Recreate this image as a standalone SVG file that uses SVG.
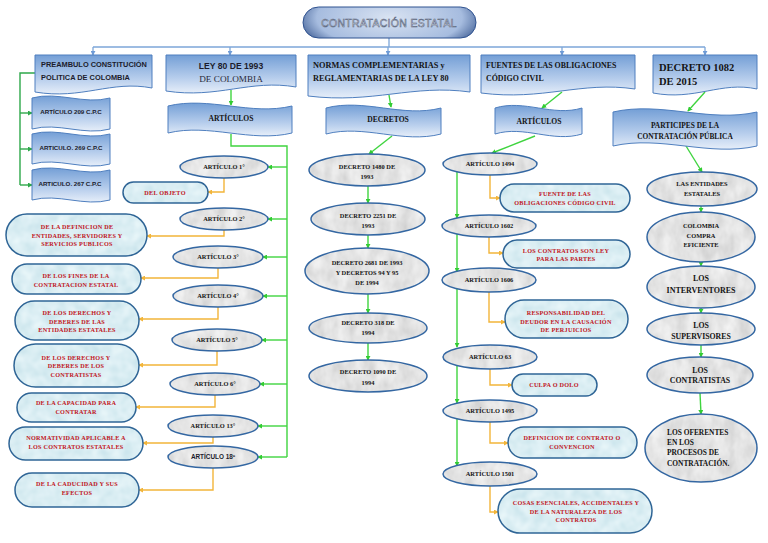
<svg xmlns="http://www.w3.org/2000/svg" width="768" height="543" viewBox="0 0 768 543">
<defs>
<linearGradient id="gHead" x1="0" y1="0" x2="0" y2="1">
<stop offset="0" stop-color="#749fd6"/><stop offset="0.6" stop-color="#b6cdec"/><stop offset="1" stop-color="#e6eef9"/>
</linearGradient>
<radialGradient id="gTitle" cx="0.5" cy="0.35" r="0.6" gradientTransform="translate(0.5 0.35) scale(1 2.2) translate(-0.5 -0.35)">
<stop offset="0" stop-color="#d9e3f2"/><stop offset="0.7" stop-color="#a6bcdf"/><stop offset="1" stop-color="#23447f"/>
</radialGradient>
<filter id="marble" x="0" y="0" width="1" height="1">
<feTurbulence type="fractalNoise" baseFrequency="0.08 0.05" numOctaves="3" seed="4" result="n"/>
<feColorMatrix in="n" type="matrix" values="0.35 0 0 0 0.6  0.35 0 0 0 0.6  0.35 0 0 0 0.6  0 0 0 0 1" result="c"/>
<feComposite in="c" in2="SourceGraphic" operator="in"/>
</filter>
<filter id="water" x="0" y="0" width="1" height="1">
<feTurbulence type="fractalNoise" baseFrequency="0.09" numOctaves="2" seed="7" result="n"/>
<feColorMatrix in="n" type="matrix" values="0.3 0 0 0 0.55  0.2 0 0 0 0.75  0.15 0 0 0 0.82  0 0 0 0 1" result="c"/>
<feComposite in="c" in2="SourceGraphic" operator="in"/>
</filter>
<marker id="aB" viewBox="0 0 6 6" refX="5" refY="3" markerWidth="5" markerHeight="5" orient="auto" markerUnits="userSpaceOnUse"><path d="M0,0 L6,3 L0,6 Z" fill="#6f9bd6"/></marker>
<marker id="aG" viewBox="0 0 6 6" refX="5" refY="3" markerWidth="5" markerHeight="5" orient="auto" markerUnits="userSpaceOnUse"><path d="M0,0 L6,3 L0,6 Z" fill="#33cc33"/></marker>
<marker id="aG2" viewBox="0 0 6 6" refX="5" refY="3" markerWidth="5" markerHeight="5" orient="auto" markerUnits="userSpaceOnUse"><path d="M0,0 L6,3 L0,6 Z" fill="#2ea84a"/></marker>
<marker id="aO" viewBox="0 0 6 6" refX="5" refY="3" markerWidth="5" markerHeight="5" orient="auto" markerUnits="userSpaceOnUse"><path d="M0,0 L6,3 L0,6 Z" fill="#f2b53a"/></marker>
</defs>
<style>
.head{fill:url(#gHead);stroke:#4f7fbf;stroke-width:1}
.mfill{fill:#ddd;filter:url(#marble)}
.mline{fill:none;stroke:#3467a2;stroke-width:1.5}
.wfill{fill:#bfe6f0;filter:url(#water)}
.wline{fill:none;stroke:#2f6596;stroke-width:1.5}
.cB{fill:none;stroke:#7da7d9;stroke-width:1.3}
.cG{fill:none;stroke:#3fd43f;stroke-width:1.4}
.cG2{fill:none;stroke:#2ea84a;stroke-width:1.4}
.cO{fill:none;stroke:#f2b53a;stroke-width:1.4}
.sb{font-family:"Liberation Sans",Arial,sans-serif;font-weight:bold;fill:#1c1c2c}
.se{font-family:"Liberation Serif","Times New Roman",serif;font-weight:bold;fill:#141414}
.ser{font-family:"Liberation Serif","Times New Roman",serif;fill:#2a2a3a}
.red{font-family:"Liberation Serif","Times New Roman",serif;font-weight:bold;fill:#c0141c;font-size:6.2px;letter-spacing:0.25px;text-anchor:middle}
.et{font-size:6.4px;text-anchor:middle}
.c{text-anchor:middle}
</style>

<g id="connectors">
<path class="cB" d="M389,38 V47 M93,47 H705"/>
<path class="cB" marker-end="url(#aB)" d="M93,47 V55"/>
<path class="cB" marker-end="url(#aB)" d="M230,47 V55"/>
<path class="cB" marker-end="url(#aB)" d="M388,47 V55"/>
<path class="cB" marker-end="url(#aB)" d="M562,47 V55"/>
<path class="cB" marker-end="url(#aB)" d="M705,47 V55"/>
<path class="cG2" d="M35,73 H20 V185"/>
<path class="cG2" marker-end="url(#aG2)" d="M20,113 H32"/>
<path class="cG2" marker-end="url(#aG2)" d="M20,149 H32"/>
<path class="cG2" marker-end="url(#aG2)" d="M20,185 H32"/>
<path class="cG" marker-end="url(#aG)" d="M231,90 V105"/>
<path class="cG" d="M231,134 V146 H287 V457"/>
<path class="cG" marker-end="url(#aG)" d="M287,167 H268"/>
<path class="cG" marker-end="url(#aG)" d="M287,219 H268"/>
<path class="cG" marker-end="url(#aG)" d="M287,257 H263"/>
<path class="cG" marker-end="url(#aG)" d="M287,296 H263"/>
<path class="cG" marker-end="url(#aG)" d="M287,340 H262"/>
<path class="cG" marker-end="url(#aG)" d="M287,384 H260"/>
<path class="cG" marker-end="url(#aG)" d="M287,426 H258"/>
<path class="cG" marker-end="url(#aG)" d="M287,457 H258"/>
<path class="cO" marker-end="url(#aO)" d="M224,178 V192 H208"/>
<path class="cO" marker-end="url(#aO)" d="M224,230 V236 H147"/>
<path class="cO" marker-end="url(#aO)" d="M218,268 V278 H141"/>
<path class="cO" marker-end="url(#aO)" d="M218,307 V319 H139"/>
<path class="cO" marker-end="url(#aO)" d="M217,351 V365 H139"/>
<path class="cO" marker-end="url(#aO)" d="M215,395 V407 H136"/>
<path class="cO" marker-end="url(#aO)" d="M213,437 V443 H143"/>
<path class="cO" marker-end="url(#aO)" d="M213,468 V490 H139"/>
<path class="cG" marker-end="url(#aG)" d="M389,95 L391,107"/>
<path class="cG" marker-end="url(#aG)" d="M392,136 L369,154"/>
<path class="cG" marker-end="url(#aG)" d="M368,186 V203"/>
<path class="cG" marker-end="url(#aG)" d="M368,235 V248"/>
<path class="cG" marker-end="url(#aG)" d="M368,294 V313"/>
<path class="cG" marker-end="url(#aG)" d="M368,343 V360"/>
<path class="cG" marker-end="url(#aG)" d="M562,92 L542,108"/>
<path class="cG" marker-end="url(#aG)" d="M535,136 L492,153"/>
<path class="cG" marker-end="url(#aG)" d="M457,172 V218"/>
<path class="cG" marker-end="url(#aG)" d="M457,234 V272"/>
<path class="cG" marker-end="url(#aG)" d="M457,288 V347"/>
<path class="cG" marker-end="url(#aG)" d="M457,365 V403"/>
<path class="cG" marker-end="url(#aG)" d="M457,418 V466"/>
<path class="cO" marker-end="url(#aO)" d="M490,175 V198 H500"/>
<path class="cO" marker-end="url(#aO)" d="M489,237 V253 H503"/>
<path class="cO" marker-end="url(#aO)" d="M489,292 V322 H505"/>
<path class="cO" marker-end="url(#aO)" d="M490,369 V385 H512"/>
<path class="cO" marker-end="url(#aO)" d="M490,422 V443 H508"/>
<path class="cO" marker-end="url(#aO)" d="M490,486 V512 H498"/>
<path class="cG" marker-end="url(#aG)" d="M705,92 L688,111"/>
<path class="cG" marker-end="url(#aG)" d="M686,146 L702,172"/>
<path class="cG" marker-end="url(#aG)" d="M701,206 V212"/>
<path class="cG" marker-end="url(#aG)" d="M701,262 V266"/>
<path class="cG" marker-end="url(#aG)" d="M701,308 V313"/>
<path class="cG" marker-end="url(#aG)" d="M701,345 V357"/>
<path class="cG" marker-end="url(#aG)" d="M700,393 L701,414"/>
</g>

<g id="title">
<rect x="303" y="7" width="173" height="31" rx="15.5" fill="url(#gTitle)" stroke="#2f5290" stroke-width="1"/>
<text x="389" y="27" text-anchor="middle" font-family="'Liberation Sans',Arial,sans-serif" font-size="10.5" letter-spacing="0.3" fill="#e9ecf1" stroke="#56627a" stroke-width="0.55">CONTRATACIÓN ESTATAL</text>
</g>

<g id="h-preambulo">
<path class="head" d="M35,55 H152 V88 C111,80 82,100 35,92 Z"/>
<text class="sb" font-size="7.4" x="41" y="67">PREAMBULO CONSTITUCIÓN</text>
<text class="sb" font-size="7.4" x="41" y="80">POLITICA DE COLOMBIA</text>
</g>
<g id="h-ley80">
<path class="head" d="M166,55 H296 V87 C250,79 218,99 166,91 Z"/>
<text class="sb c" font-size="8.6" x="231" y="69">LEY 80 DE 1993</text>
<text class="ser c" font-size="9.2" x="231" y="82">DE COLOMBIA</text>
</g>
<g id="h-normas">
<path class="head" d="M308,55 H470 V92 C413,84 373,104 308,96 Z"/>
<text class="se" font-size="8.3" x="313" y="68">NORMAS COMPLEMENTARIAS y</text>
<text class="se" font-size="8.3" x="313" y="81">REGLAMENTARIAS DE LA LEY 80</text>
</g>
<g id="h-fuentes">
<path class="head" d="M481,55 H635 V89 C581,81 543,101 481,93 Z"/>
<text class="se" font-size="7.9" x="486" y="68">FUENTES DE LAS OBLIGACIONES</text>
<text class="se" font-size="7.9" x="486" y="81">CÓDIGO CIVIL</text>
</g>
<g id="h-decreto1082">
<path class="head" d="M653,55 H757 V89 C721,81 695,101 653,93 Z"/>
<text class="se" font-size="10.5" x="659" y="71">DECRETO 1082</text>
<text class="se" font-size="10.5" x="659" y="85">DE 2015</text>
</g>

<g id="b-art209">
<path class="head" d="M32,98 C58,91 84,105 110,98 V129 C84,136 58,122 32,129 Z"/>
<text class="sb c" font-size="6.2" x="71" y="114">ARTÍCULO 209 C.P.C</text>
</g>
<g id="b-art269">
<path class="head" d="M32,134 C58,127 84,141 110,134 V164 C84,171 58,157 32,164 Z"/>
<text class="sb c" font-size="6.2" x="71" y="150">ARTICULO. 269 C.P.C</text>
</g>
<g id="b-art267">
<path class="head" d="M32,170 C58,163 84,177 110,170 V200 C84,207 58,193 32,200 Z"/>
<text class="sb c" font-size="6.2" x="70" y="186">ARTICULO. 267 C.P.C</text>
</g>
<g id="b-articulos1">
<path class="head" d="M168,106 C209,96 251,116 292,106 V133 C251,143 209,123 168,133 Z"/>
<text class="se c" font-size="7.6" x="231" y="121">ARTÍCULOS</text>
</g>
<g id="b-decretos">
<path class="head" d="M326,108 C364,98 403,118 441,108 V134 C403,144 364,124 326,134 Z"/>
<text class="se c" font-size="7.6" x="388" y="122">DECRETOS</text>
</g>
<g id="b-articulos2">
<path class="head" d="M495,108 C524,99 553,117 582,108 V134 C553,143 524,125 495,134 Z"/>
<text class="se c" font-size="7.6" x="539" y="124">ARTÍCULOS</text>
</g>
<g id="b-participes">
<path class="head" d="M613,112 C661,101 709,123 757,112 V146 C709,157 661,135 613,146 Z"/>
<text class="se c" font-size="7.4" x="685" y="128">PARTICIPES DE LA</text>
<text class="se c" font-size="7.4" x="685" y="139">CONTRATACIÓN PÚBLICA</text>
</g>

<g id="e-art1"><ellipse class="mfill" cx="224" cy="167" rx="44" ry="11"/><ellipse class="mline" cx="224" cy="167" rx="44" ry="11"/><text class="se et" x="224" y="169">ARTÍCULO 1°</text></g>
<g id="e-art2"><ellipse class="mfill" cx="224" cy="219" rx="44" ry="11"/><ellipse class="mline" cx="224" cy="219" rx="44" ry="11"/><text class="se et" x="224" y="221">ARTÍCULO 2°</text></g>
<g id="e-art3"><ellipse class="mfill" cx="218" cy="257" rx="45" ry="11"/><ellipse class="mline" cx="218" cy="257" rx="45" ry="11"/><text class="se et" x="218" y="259">ARTÍCULO 3°</text></g>
<g id="e-art4"><ellipse class="mfill" cx="218" cy="296" rx="45" ry="11"/><ellipse class="mline" cx="218" cy="296" rx="45" ry="11"/><text class="se et" x="218" y="298">ARTÍCULO 4°</text></g>
<g id="e-art5"><ellipse class="mfill" cx="217" cy="340" rx="45" ry="11"/><ellipse class="mline" cx="217" cy="340" rx="45" ry="11"/><text class="se et" x="217" y="342">ARTÍCULO 5°</text></g>
<g id="e-art6"><ellipse class="mfill" cx="215" cy="384" rx="45" ry="11"/><ellipse class="mline" cx="215" cy="384" rx="45" ry="11"/><text class="se et" x="215" y="386">ARTÍCULO 6°</text></g>
<g id="e-art13"><ellipse class="mfill" cx="213" cy="426" rx="45" ry="11"/><ellipse class="mline" cx="213" cy="426" rx="45" ry="11"/><text class="se et" x="213" y="428">ARTÍCULO 13°</text></g>
<g id="e-art18"><ellipse class="mfill" cx="213" cy="457" rx="45" ry="11"/><ellipse class="mline" cx="213" cy="457" rx="45" ry="11"/><text class="sb et" x="213" y="459">ARTÍCULO 18º</text></g>

<g id="p-objeto"><rect class="wfill" x="123" y="182" width="85" height="21" rx="10.5"/><rect class="wline" x="123" y="182" width="85" height="21" rx="10.5"/><text class="red" font-family="'Liberation Sans',Arial,sans-serif" x="165" y="195">DEL OBJETO</text></g>
<g id="p-definicion"><rect class="wfill" x="6" y="214" width="141" height="42" rx="21"/><rect class="wline" x="6" y="214" width="141" height="42" rx="21"/><text class="red" x="77" y="229">DE LA DEFINICION DE</text><text class="red" x="77" y="238">ENTIDADES, SERVIDORES Y</text><text class="red" x="77" y="246">SERVICIOS PUBLICOS</text></g>
<g id="p-fines"><rect class="wfill" x="12" y="264" width="129" height="30" rx="15"/><rect class="wline" x="12" y="264" width="129" height="30" rx="15"/><text class="red" x="76" y="278">DE LOS FINES DE LA</text><text class="red" x="76" y="287">CONTRATACION ESTATAL</text></g>
<g id="p-derechos-ent"><rect class="wfill" x="15" y="301" width="124" height="39" rx="19.5"/><rect class="wline" x="15" y="301" width="124" height="39" rx="19.5"/><text class="red" x="77" y="315">DE LOS DERECHOS Y</text><text class="red" x="77" y="324">DEBERES DE LAS</text><text class="red" x="77" y="332">ENTIDADES ESTATALES</text></g>
<g id="p-derechos-con"><rect class="wfill" x="14" y="344" width="125" height="43" rx="21.5"/><rect class="wline" x="14" y="344" width="125" height="43" rx="21.5"/><text class="red" x="76" y="360">DE LOS DERECHOS Y</text><text class="red" x="76" y="368">DEBERES DE LOS</text><text class="red" x="76" y="377">CONTRATISTAS</text></g>
<g id="p-capacidad"><rect class="wfill" x="17" y="393" width="119" height="29" rx="14.5"/><rect class="wline" x="17" y="393" width="119" height="29" rx="14.5"/><text class="red" x="76" y="405">DE LA CAPACIDAD PARA</text><text class="red" x="76" y="414">CONTRATAR</text></g>
<g id="p-normatividad"><rect class="wfill" x="9" y="427" width="134" height="33" rx="16.5"/><rect class="wline" x="9" y="427" width="134" height="33" rx="16.5"/><text class="red" x="76" y="440">NORMATIVIDAD APLICABLE A</text><text class="red" x="76" y="449">LOS CONTRATOS ESTATALES</text></g>
<g id="p-caducidad"><rect class="wfill" x="15" y="473" width="124" height="34" rx="17"/><rect class="wline" x="15" y="473" width="124" height="34" rx="17"/><text class="red" x="77" y="486">DE LA CADUCIDAD Y SUS</text><text class="red" x="77" y="495">EFECTOS</text></g>

<g id="e-dec1480"><ellipse class="mfill" cx="367" cy="170" rx="58" ry="16"/><ellipse class="mline" cx="367" cy="170" rx="58" ry="16"/><text class="se et" x="367" y="169">DECRETO 1480 DE</text><text class="se et" x="367" y="179">1993</text></g>
<g id="e-dec2251"><ellipse class="mfill" cx="368" cy="219" rx="57" ry="16"/><ellipse class="mline" cx="368" cy="219" rx="57" ry="16"/><text class="se et" x="368" y="218">DECRETO 2251 DE</text><text class="se et" x="368" y="228">1993</text></g>
<g id="e-dec2681"><ellipse class="mfill" cx="367" cy="271" rx="62" ry="23"/><ellipse class="mline" cx="367" cy="271" rx="62" ry="23"/><text class="se et" x="367" y="265">DECRETO 2681 DE 1993</text><text class="se et" x="367" y="275">Y DECRETOS 94 Y 95</text><text class="se et" x="367" y="285">DE 1994</text></g>
<g id="e-dec318"><ellipse class="mfill" cx="368" cy="328" rx="59" ry="15"/><ellipse class="mline" cx="368" cy="328" rx="59" ry="15"/><text class="se et" x="368" y="325">DECRETO 318 DE</text><text class="se et" x="368" y="335">1994</text></g>
<g id="e-dec1090"><ellipse class="mfill" cx="368" cy="376" rx="59" ry="16"/><ellipse class="mline" cx="368" cy="376" rx="59" ry="16"/><text class="se et" x="368" y="374">DECRETO 1090 DE</text><text class="se et" x="368" y="385">1994</text></g>

<g id="e-art1494"><ellipse class="mfill" cx="490" cy="164" rx="47" ry="11"/><ellipse class="mline" cx="490" cy="164" rx="47" ry="11"/><text class="se et" x="490" y="166">ARTÍCULO 1494</text></g>
<g id="e-art1602"><ellipse class="mfill" cx="489" cy="226" rx="47" ry="11"/><ellipse class="mline" cx="489" cy="226" rx="47" ry="11"/><text class="se et" x="489" y="228">ARTÍCULO 1602</text></g>
<g id="e-art1606"><ellipse class="mfill" cx="489" cy="280" rx="47" ry="12"/><ellipse class="mline" cx="489" cy="280" rx="47" ry="12"/><text class="se et" x="489" y="282">ARTÍCULO 1606</text></g>
<g id="e-art63"><ellipse class="mfill" cx="490" cy="357" rx="47" ry="12"/><ellipse class="mline" cx="490" cy="357" rx="47" ry="12"/><text class="se et" x="490" y="359">ARTÍCULO 63</text></g>
<g id="e-art1495"><ellipse class="mfill" cx="490" cy="411" rx="47" ry="11"/><ellipse class="mline" cx="490" cy="411" rx="47" ry="11"/><text class="se et" x="490" y="413">ARTÍCULO 1495</text></g>
<g id="e-art1501"><ellipse class="mfill" cx="490" cy="474" rx="47" ry="12"/><ellipse class="mline" cx="490" cy="474" rx="47" ry="12"/><text class="se et" x="490" y="476">ARTÍCULO 1501</text></g>

<g id="p-fuente"><rect class="wfill" x="500" y="184" width="130" height="28" rx="14"/><rect class="wline" x="500" y="184" width="130" height="28" rx="14"/><text class="red" x="565" y="196">FUENTE DE LAS</text><text class="red" x="565" y="205">OBLIGACIONES CÓDIGO CIVIL</text></g>
<g id="p-ley"><rect class="wfill" x="503" y="240" width="127" height="28" rx="14"/><rect class="wline" x="503" y="240" width="127" height="28" rx="14"/><text class="red" x="566" y="253">LOS CONTRATOS SON LEY</text><text class="red" x="566" y="261">PARA LAS PARTES</text></g>
<g id="p-responsabilidad"><rect class="wfill" x="505" y="300" width="123" height="38" rx="19"/><rect class="wline" x="505" y="300" width="123" height="38" rx="19"/><text class="red" x="566" y="315">RESPONSABILIDAD DEL</text><text class="red" x="566" y="324">DEUDOR EN LA CAUSACIÓN</text><text class="red" x="566" y="332">DE PERJUICIOS</text></g>
<g id="p-culpa"><rect class="wfill" x="512" y="374" width="85" height="22" rx="11"/><rect class="wline" x="512" y="374" width="85" height="22" rx="11"/><text class="red" x="554" y="387">CULPA O DOLO</text></g>
<g id="p-definicion-contrato"><rect class="wfill" x="508" y="427" width="129" height="31" rx="15.5"/><rect class="wline" x="508" y="427" width="129" height="31" rx="15.5"/><text class="red" x="572" y="440">DEFINICION DE CONTRATO O</text><text class="red" x="572" y="449">CONVENCION</text></g>
<g id="p-cosas"><rect class="wfill" x="498" y="489" width="154" height="44" rx="22"/><rect class="wline" x="498" y="489" width="154" height="44" rx="22"/><text class="red" x="576" y="505">COSAS ESENCIALES, ACCIDENTALES Y</text><text class="red" x="576" y="514">DE LA NATURALEZA DE LOS</text><text class="red" x="576" y="522">CONTRATOS</text></g>

<g id="e-entidades"><ellipse class="mfill" cx="702" cy="189" rx="55" ry="17"/><ellipse class="mline" cx="702" cy="189" rx="55" ry="17"/><text class="se et" x="702" y="186">LAS ENTIDADES</text><text class="se et" x="702" y="196">ESTATALES</text></g>
<g id="e-colombia"><ellipse class="mfill" cx="701" cy="237" rx="54" ry="25"/><ellipse class="mline" cx="701" cy="237" rx="54" ry="25"/><text class="se et" x="701" y="228">COLOMBIA</text><text class="se et" x="701" y="238">COMPRA</text><text class="se et" x="701" y="247">EFICIENTE</text></g>
<g id="e-interventores"><ellipse class="mfill" cx="701" cy="287" rx="54" ry="21"/><ellipse class="mline" cx="701" cy="287" rx="54" ry="21"/><text class="se c" font-size="8" x="701" y="281">LOS</text><text class="se c" font-size="8" x="701" y="293">INTERVENTORES</text></g>
<g id="e-supervisores"><ellipse class="mfill" cx="701" cy="329" rx="54" ry="16"/><ellipse class="mline" cx="701" cy="329" rx="54" ry="16"/><text class="se c" font-size="7.8" x="701" y="328">LOS</text><text class="se c" font-size="7.8" x="701" y="339">SUPERVISORES</text></g>
<g id="e-contratistas"><ellipse class="mfill" cx="700" cy="375" rx="53" ry="18"/><ellipse class="mline" cx="700" cy="375" rx="53" ry="18"/><text class="se c" font-size="7.8" x="700" y="373">LOS</text><text class="se c" font-size="7.8" x="700" y="383">CONTRATISTAS</text></g>
<g id="e-oferentes"><ellipse class="mfill" cx="701" cy="448" rx="56" ry="34"/><ellipse class="mline" cx="701" cy="448" rx="56" ry="34"/><text class="se" font-size="7.4" x="667" y="435">LOS OFERENTES</text><text class="se" font-size="7.4" x="667" y="445">EN LOS</text><text class="se" font-size="7.4" x="667" y="455">PROCESOS DE</text><text class="se" font-size="7.4" x="667" y="466">CONTRATACIÓN.</text></g>
</svg>
